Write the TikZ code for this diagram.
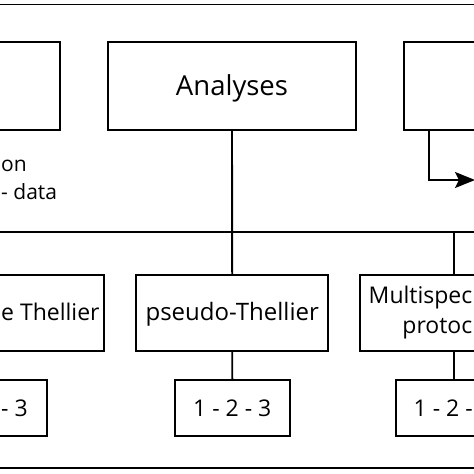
\documentclass[tikz,border=0pt]{standalone}
\usepackage{fontspec}
\setmainfont{Open Sans}
\usetikzlibrary{arrows.meta}
\begin{document}
\begin{tikzpicture}[x=1pt,y=-1pt,
  box/.style={draw=black,line width=1.9pt,fill=none},
  conn/.style={draw=black,line width=1.9pt},
  big/.style={font=\fontsize{27.5}{30}\selectfont,inner sep=0pt},
  mid/.style={font=\fontsize{24}{28}\selectfont,inner sep=0pt},
  edge/.style={font=\fontsize{23}{26}\selectfont,inner sep=0pt},
  num/.style={font=\fontsize{23}{26}\selectfont,inner sep=0pt},
  small/.style={font=\fontsize{21}{24}\selectfont,inner sep=0pt}]
\useasboundingbox (0,0) rectangle (474,474);
\clip (0,0) rectangle (474,474);
% outer frame and divider
\draw[conn] (-10,4.5) rectangle (484,468);
\coordinate (hl) at (-10,232);
\coordinate (hr) at (484,232);
\draw[conn] (hl) -- (hr);
% top boxes
\node[box,minimum width=180pt,minimum height=88pt] (tl) at (-29.7,86) {};
\node[box,minimum width=248.6pt,minimum height=88pt] (an) at (232,86) {};
\node[big,anchor=base] (antext) at (232,95) {Analyses};
\node[box,minimum width=200pt,minimum height=88pt] (tr) at (504.3,86) {};
% labels below top-left box
\node[small,anchor=base west] (on) at (1,171.7) {on};
\node[small,anchor=base west] (data) at (1,199.3) {- data};
% arrow from right top box
\coordinate (ar1) at (428.7,130);
\coordinate (ar2) at (428.7,180);
\coordinate (ar3) at (475,180);
\draw[conn,-{Stealth[length=20pt,width=16pt,inset=4pt]}] (ar1) -- (ar2) -- (ar3);
% second row boxes
\node[box,minimum width=228.6pt,minimum height=76.3pt] (bl) at (-10,312.85) {};
\node[edge,anchor=base west] (bltext) at (1,320.3) {e Thellier};
\node[box,minimum width=191.7pt,minimum height=76.3pt] (ps) at (232.2,312.85) {};
\node[mid,anchor=base] (pstext) at (232.2,320.3) {pseudo-Thellier};
\node[box,minimum width=186.8pt,minimum height=76.3pt] (ms) at (453.7,312.85) {};
\node[edge,anchor=base east] (ms1) at (472.5,303.3) {Multispec};
\node[edge,anchor=base east] (ms2) at (472.5,333.3) {protoc};
% number boxes
\node[box,minimum width=114.7pt,minimum height=56.6pt] (nl) at (-10,408) {};
\node[num,anchor=base west] (nltext) at (1,416) {- 3};
\node[box,minimum width=114.7pt,minimum height=56.6pt] (nm) at (232.3,408) {};
\node[num,anchor=base] (nmtext) at (232.3,416) {1 - 2 - 3};
\node[box,minimum width=114.7pt,minimum height=56.6pt] (nr) at (453.7,408) {};
\node[num,anchor=base west] (nrtext) at (413.5,416) {1 - 2 -};
% connectors
\draw[conn] (an.south) -- (ps.north);
\draw[conn] (453.7,232) -- (ms.north);
\draw[conn] (ps.south) -- (nm.north);
\draw[conn] (ms.south) -- (nr.north);
\draw[conn] (bl.south) -- (nl.north);
\end{tikzpicture}
\end{document}
